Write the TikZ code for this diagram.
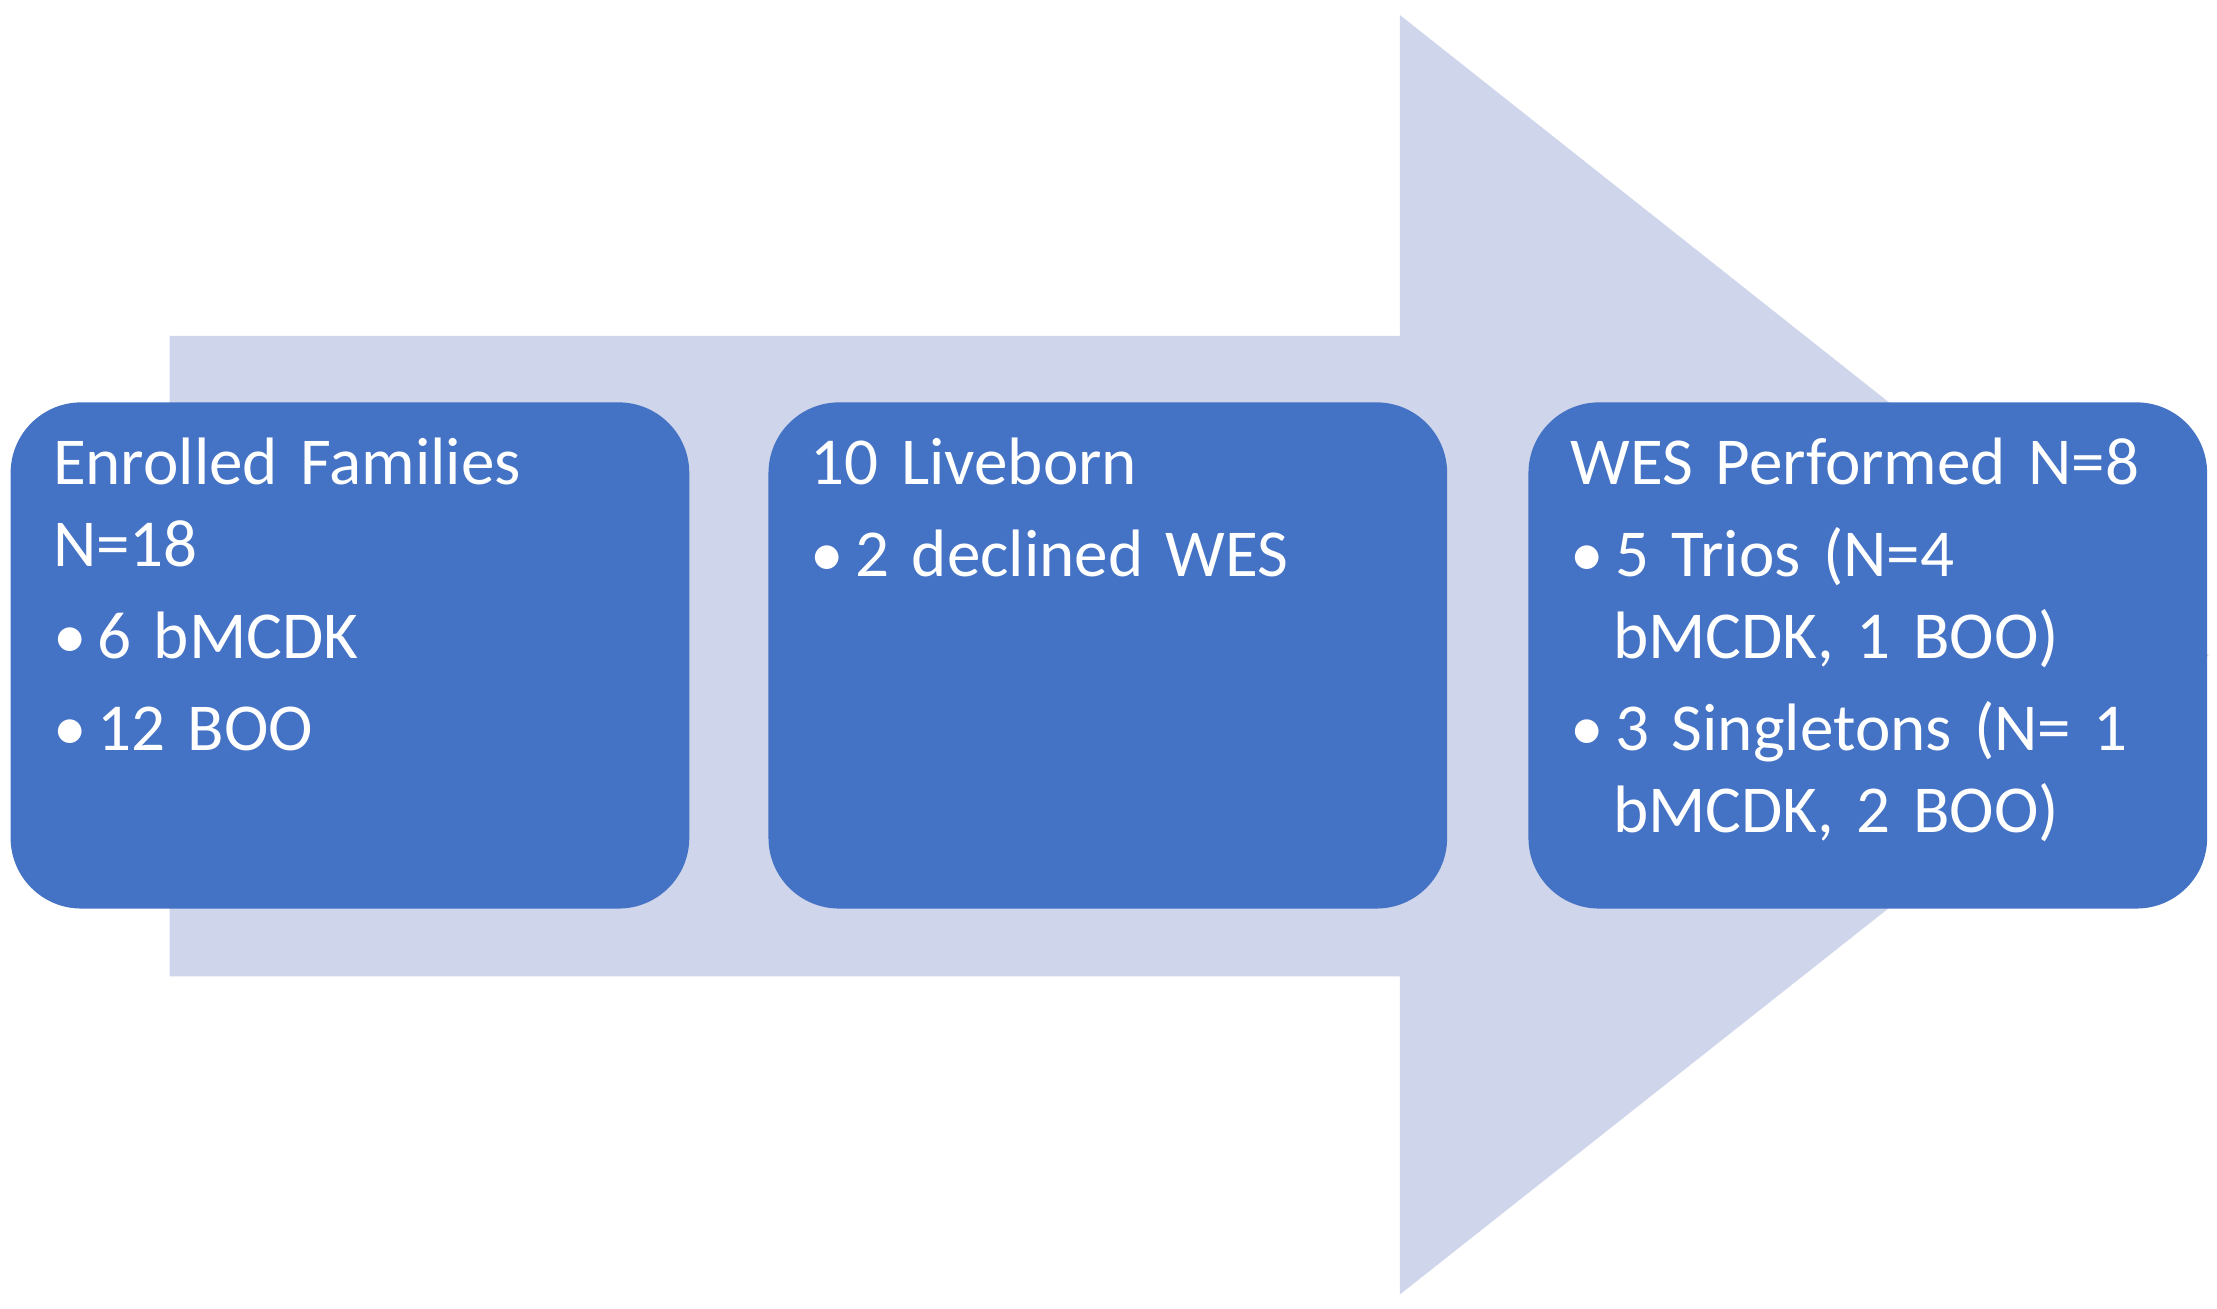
\documentclass[tikz,border=0pt]{standalone}
\usepackage{fontspec}
\setmainfont{Carlito}
\usetikzlibrary{positioning}
\definecolor{arrowfill}{HTML}{CFD5EA}
\definecolor{boxfill}{HTML}{4472C4}
\tikzset{
    stagebox/.style={fill=boxfill, rounded corners=0.5cm, minimum width=4.78cm, minimum height=3.58cm,
        text=white, align=left, text width=4.5cm, inner sep=0.15cm, font=\fontsize{13.5}{16.5}\selectfont},
}
\begin{document}
\begin{tikzpicture}[x=1cm,y=1cm]
        \useasboundingbox (0,0) rectangle (15.68,9.256);

        % big arrow
        \fill[arrowfill] (1.2,6.88) -- (9.9,6.88) -- (9.9,9.15) -- (15.62,4.62)
            -- (9.9,0.1) -- (9.9,2.35) -- (1.2,2.35) -- cycle;

        % stages
        \node[stagebox] (enrolled) at (2.475,4.62) {};
        \node[stagebox] (liveborn) at (7.835,4.62) {};
        \node[stagebox] (wes) at (13.21,4.62) {};

        \node[below right, stagebox, fill=none, minimum width=0, minimum height=0, text width=4.4cm]
            at ([xshift=0.15cm,yshift=-0.1cm]enrolled.north west)
            {Enrolled Families\\N=18\\[2pt]
             \textbullet\,6 bMCDK\\[2pt]
             \textbullet\,12 BOO};
        \node[below right, stagebox, fill=none, minimum width=0, minimum height=0, text width=4.4cm]
            at ([xshift=0.15cm,yshift=-0.1cm]liveborn.north west)
            {10 Liveborn\\[2pt]
             \textbullet\,2 declined WES};
        \node[below right, stagebox, fill=none, minimum width=0, minimum height=0, text width=4.6cm]
            at ([xshift=0.15cm,yshift=-0.1cm]wes.north west)
            {WES Performed N=8\\[2pt]
             \textbullet\,5 Trios (N=4\\\hspace*{0.3cm}bMCDK, 1 BOO)\\[2pt]
             \textbullet\,3 Singletons (N= 1\\\hspace*{0.3cm}bMCDK, 2 BOO)};
\end{tikzpicture}
\end{document}
